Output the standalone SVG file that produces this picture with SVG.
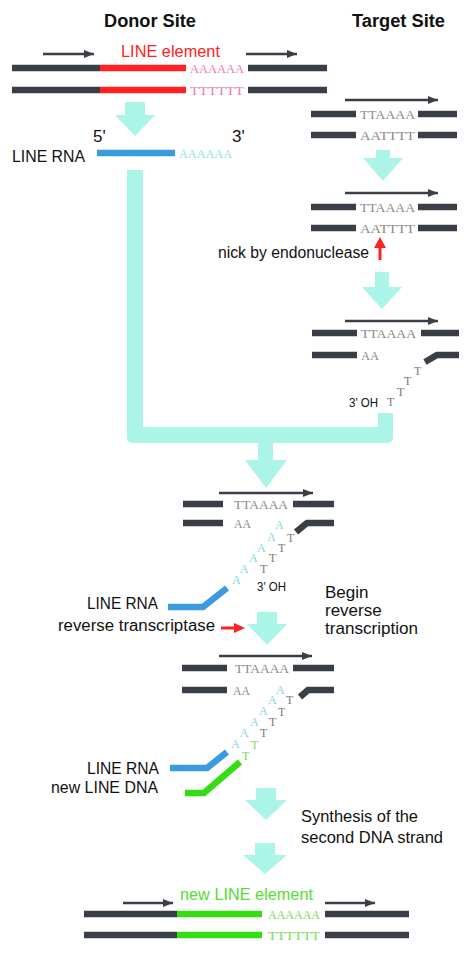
<svg xmlns="http://www.w3.org/2000/svg" width="474" height="953" viewBox="0 0 474 953">
<defs>
<marker id="ah" markerUnits="userSpaceOnUse" markerWidth="12" markerHeight="10" refX="10" refY="5" orient="auto">
<path d="M0,1 L10,5 L0,9 Z" fill="#3a3f47"/>
</marker>
<style>
.dna{stroke:#3a3f47;stroke-width:6.5;fill:none}
.red{stroke:#ff2222;stroke-width:6.5}
.grn{stroke:#33dd11;stroke-width:6.5;fill:none}
.blu{stroke:#3a9be0;stroke-width:6.5;fill:none}
.arr{stroke:#3a3f47;stroke-width:2.5;marker-end:url(#ah)}
.cy{fill:#aaf5e8}
.seq{font-family:"Liberation Serif","Times New Roman",serif;font-size:13px}
.gs{fill:#8a8a8a}
.ca{fill:#7fd8e0;font-family:"Liberation Serif",serif;font-size:12px}
.ct{fill:#7a7a7a;font-family:"Liberation Serif",serif;font-size:12px}
.gt{fill:#77dd55;font-family:"Liberation Serif",serif;font-size:12px}
.lbl{font-family:"Liberation Sans",Arial,sans-serif;font-size:17px;fill:#111}
.hd{font-family:"Liberation Sans",Arial,sans-serif;font-size:18px;font-weight:bold;fill:#111}
.sm{font-family:"Liberation Sans",Arial,sans-serif;font-size:12px;fill:#111}
</style>
</defs>

<g id="headers">
<text class="hd" x="104" y="27" textLength="92" lengthAdjust="spacingAndGlyphs">Donor Site</text>
<text class="hd" x="352" y="27" textLength="93" lengthAdjust="spacingAndGlyphs">Target Site</text>
</g>

<g id="donor">
<line class="arr" x1="43" y1="54" x2="94" y2="54"/>
<line class="arr" x1="246" y1="54" x2="297" y2="54"/>
<text class="lbl" x="121" y="57" style="fill:#ff2222" textLength="99" lengthAdjust="spacingAndGlyphs">LINE element</text>
<line class="dna" x1="12" y1="68" x2="100" y2="68"/>
<line class="red" x1="100" y1="68" x2="186" y2="68"/>
<text class="seq" x="190" y="73" style="fill:#f27aa0" textLength="54" lengthAdjust="spacingAndGlyphs">AAAAAA</text>
<line class="dna" x1="248" y1="68" x2="327" y2="68"/>
<line class="dna" x1="12" y1="90" x2="100" y2="90"/>
<line class="red" x1="100" y1="90" x2="186" y2="90"/>
<text class="seq" x="190" y="95" style="fill:#f27aa0" textLength="54" lengthAdjust="spacingAndGlyphs">TTTTTT</text>
<line class="dna" x1="248" y1="90" x2="327" y2="90"/>
</g>

<g id="line-rna">
<text class="lbl" x="93" y="142">5'</text>
<text class="lbl" x="232" y="142">3'</text>
<text class="lbl" x="12" y="162" textLength="73" lengthAdjust="spacingAndGlyphs">LINE RNA</text>
<line class="blu" x1="97" y1="153" x2="175" y2="153"/>
<text class="seq" x="179" y="158" style="fill:#8fe0e8" textLength="53" lengthAdjust="spacingAndGlyphs">AAAAAA</text>
</g>

<g id="target1">
<line class="arr" x1="345" y1="100" x2="438" y2="100"/>
<line class="dna" x1="311" y1="114" x2="356" y2="114"/>
<text class="seq gs" x="360" y="119" textLength="55" lengthAdjust="spacingAndGlyphs">TTAAAA</text>
<line class="dna" x1="418" y1="114" x2="457" y2="114"/>
<line class="dna" x1="311" y1="135" x2="356" y2="135"/>
<text class="seq gs" x="360" y="140" textLength="55" lengthAdjust="spacingAndGlyphs">AATTTT</text>
<line class="dna" x1="418" y1="135" x2="457" y2="135"/>
</g>

<g id="target2">
<line class="arr" x1="345" y1="193" x2="438" y2="193"/>
<line class="dna" x1="311" y1="207" x2="356" y2="207"/>
<text class="seq gs" x="360" y="212" textLength="55" lengthAdjust="spacingAndGlyphs">TTAAAA</text>
<line class="dna" x1="418" y1="207" x2="457" y2="207"/>
<line class="dna" x1="311" y1="228" x2="356" y2="228"/>
<text class="seq gs" x="360" y="233" textLength="55" lengthAdjust="spacingAndGlyphs">AATTTT</text>
<line class="dna" x1="418" y1="228" x2="457" y2="228"/>
<text class="lbl" x="218" y="258" style="font-size:16px" textLength="151" lengthAdjust="spacingAndGlyphs">nick by endonuclease</text>
<line x1="380" y1="260" x2="380" y2="246" stroke="#ff2222" stroke-width="3"/>
<path d="M374,248 L380,237 L386,248 Z" fill="#ff2222"/>
</g>

<g id="target3">
<line class="arr" x1="345" y1="321" x2="438" y2="321"/>
<line class="dna" x1="312" y1="333" x2="357" y2="333"/>
<text class="seq gs" x="361" y="338" textLength="55" lengthAdjust="spacingAndGlyphs">TTAAAA</text>
<line class="dna" x1="421" y1="333" x2="459" y2="333"/>
<line class="dna" x1="312" y1="355" x2="357" y2="355"/>
<text class="seq gs" x="361" y="360" textLength="18" lengthAdjust="spacingAndGlyphs">AA</text>
<polyline class="dna" points="425,362 437,355 459,355"/>
<text class="ct" x="387" y="406">T</text>
<text class="ct" x="397" y="396">T</text>
<text class="ct" x="404" y="385">T</text>
<text class="ct" x="414" y="375">T</text>
<text class="sm" x="349" y="407" textLength="29" lengthAdjust="spacingAndGlyphs">3' OH</text>
</g>

<g id="merged1">
<line class="arr" x1="219" y1="493" x2="313" y2="493"/>
<line class="dna" x1="183" y1="504" x2="223" y2="504"/>
<text class="seq gs" x="234" y="509" textLength="54" lengthAdjust="spacingAndGlyphs">TTAAAA</text>
<line class="dna" x1="293" y1="504" x2="334" y2="504"/>
<line class="dna" x1="183" y1="523" x2="223" y2="523"/>
<text class="seq gs" x="234" y="528" textLength="17" lengthAdjust="spacingAndGlyphs">AA</text>
<polyline class="dna" points="296,532 307,523 334,523"/>
<text class="ca" x="275" y="529">A</text>
<text class="ca" x="267" y="541">A</text>
<text class="ca" x="257" y="552">A</text>
<text class="ca" x="249" y="562">A</text>
<text class="ca" x="240" y="573">A</text>
<text class="ca" x="232" y="584">A</text>
<text class="ct" x="287" y="542">T</text>
<text class="ct" x="278" y="552">T</text>
<text class="ct" x="269" y="562">T</text>
<text class="ct" x="260" y="573">T</text>
<text class="sm" x="257" y="591" textLength="29" lengthAdjust="spacingAndGlyphs">3' OH</text>
<polyline class="blu" points="168,607 203,607 227,588"/>
<text class="lbl" x="87" y="609" textLength="71" lengthAdjust="spacingAndGlyphs">LINE RNA</text>
<text class="lbl" x="58" y="631" style="font-size:16px" textLength="157" lengthAdjust="spacingAndGlyphs">reverse transcriptase</text>
<line x1="221" y1="628" x2="236" y2="628" stroke="#ff2222" stroke-width="3"/>
<path d="M234,623 L245,628 L234,633 Z" fill="#ff2222"/>
<text class="lbl" x="325" y="598">Begin</text>
<text class="lbl" x="325" y="616">reverse</text>
<text class="lbl" x="325" y="634" textLength="93" lengthAdjust="spacingAndGlyphs">transcription</text>
</g>

<g id="merged2">
<line class="arr" x1="219" y1="656" x2="312" y2="656"/>
<line class="dna" x1="182" y1="668" x2="227" y2="668"/>
<text class="seq gs" x="235" y="673" textLength="54" lengthAdjust="spacingAndGlyphs">TTAAAA</text>
<line class="dna" x1="293" y1="668" x2="334" y2="668"/>
<line class="dna" x1="182" y1="690" x2="227" y2="690"/>
<text class="seq gs" x="233" y="695" textLength="17" lengthAdjust="spacingAndGlyphs">AA</text>
<polyline class="dna" points="300,697 308,690 334,690"/>
<text class="ca" x="276" y="694">A</text>
<text class="ca" x="268" y="704">A</text>
<text class="ca" x="259" y="715">A</text>
<text class="ca" x="250" y="726">A</text>
<text class="ca" x="240" y="737">A</text>
<text class="ca" x="231" y="748">A</text>
<text class="ct" x="286" y="704">T</text>
<text class="ct" x="278" y="716">T</text>
<text class="ct" x="269" y="726">T</text>
<text class="ct" x="260" y="737">T</text>
<text class="gt" x="251" y="749">T</text>
<text class="gt" x="242" y="760">T</text>
<polyline class="blu" points="170,768 207,768 227,752"/>
<polyline class="grn" points="185,793 204,793 240,762"/>
<text class="lbl" x="87" y="774" textLength="72" lengthAdjust="spacingAndGlyphs">LINE RNA</text>
<text class="lbl" x="51" y="793" textLength="107" lengthAdjust="spacingAndGlyphs">new LINE DNA</text>
<text class="lbl" x="301" y="822" textLength="117" lengthAdjust="spacingAndGlyphs">Synthesis of the</text>
<text class="lbl" x="301" y="843" textLength="142" lengthAdjust="spacingAndGlyphs">second DNA strand</text>
</g>

<g id="final">
<text class="lbl" x="180" y="900" style="fill:#55dd33" textLength="133" lengthAdjust="spacingAndGlyphs">new LINE element</text>
<line class="arr" x1="123" y1="903" x2="173" y2="903"/>
<line class="arr" x1="325" y1="903" x2="375" y2="903"/>
<line class="dna" x1="84" y1="914" x2="177" y2="914"/>
<line class="grn" x1="177" y1="914" x2="262" y2="914"/>
<text class="seq" x="268" y="919" style="fill:#77dd55" textLength="52" lengthAdjust="spacingAndGlyphs">AAAAAA</text>
<line class="dna" x1="325" y1="914" x2="409" y2="914"/>
<line class="dna" x1="84" y1="935" x2="177" y2="935"/>
<line class="grn" x1="177" y1="935" x2="262" y2="935"/>
<text class="seq" x="268" y="940" style="fill:#77dd55" textLength="52" lengthAdjust="spacingAndGlyphs">TTTTTT</text>
<line class="dna" x1="325" y1="935" x2="409" y2="935"/>
</g>

<g id="connectors">
<polygon class="cy" points="125,102 145,102 145,115 155,115 135,136 115,115 125,115"/>
<polygon class="cy" points="376,150 390,150 390,158 403,158 383,181 363,158 376,158"/>
<polygon class="cy" points="375,272 389,272 389,287 402,287 382,309 362,287 375,287"/>
<path class="cy" d="M127,170 H143 V427 H378 V413 H393 V437 Q393,443 387,443 H133 Q127,443 127,437 Z"/>
<polygon class="cy" points="258,443 273,443 273,460 287,460 266,488 245,460 258,460"/>
<polygon class="cy" points="257,612 277,612 277,624 287,624 267,645 247,624 257,624"/>
<polygon class="cy" points="256,788 276,788 276,800 287,800 266,820 245,800 256,800"/>
<polygon class="cy" points="255,843 275,843 275,855 287,855 265,874 243,855 255,855"/>
</g>
</svg>
